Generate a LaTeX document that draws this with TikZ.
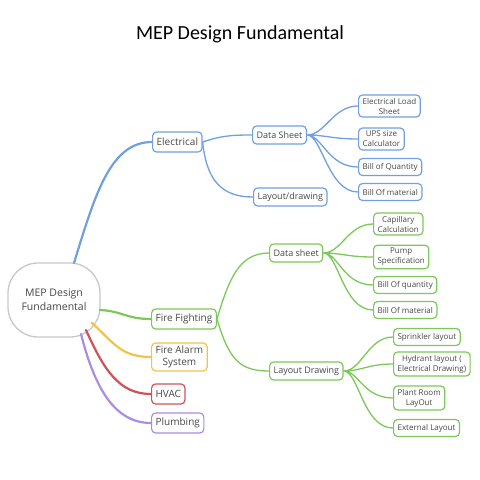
\documentclass[tikz,border=0pt]{standalone}
\usepackage{fontspec}
\setmainfont{Open Sans}
\newfontfamily\titlefont{Carlito}
\definecolor{textgray}{RGB}{72,72,72}
\definecolor{coregray}{RGB}{200,200,200}
\definecolor{elecblue}{RGB}{112,160,226}
\definecolor{firegreen}{RGB}{124,200,88}
\definecolor{alarmorange}{RGB}{240,196,72}
\definecolor{hvacred}{RGB}{206,82,88}
\definecolor{plumbpurple}{RGB}{168,142,226}

\begin{document}
\begin{tikzpicture}[x=1pt,y=-1pt,
    box/.style={draw, fill=white, rounded corners=4pt, line width=1.2pt, text=textgray,
        align=center, inner xsep=4pt, inner ysep=3pt},
    mainbox/.style={box, font=\fontsize{10}{12}\selectfont, minimum height=20pt},
    subbox/.style={box, font=\fontsize{9}{11}\selectfont, minimum height=18pt},
    leafbox/.style={box, font=\fontsize{8}{10}\selectfont, minimum height=17pt},
    trunk/.style={line width=2.2pt, line cap=round},
    twig/.style={line width=1.3pt, line cap=round}]

    \useasboundingbox (0,0) rectangle (480,480);

    % title
    \node[font=\titlefont\fontsize{20}{24}\selectfont] (title) at (240,34) {MEP Design Fundamental};

    % centre
    \node[draw=coregray, fill=white, line width=1.3pt, rounded corners=30pt, minimum width=92pt,
        minimum height=74pt, align=center, text=textgray, font=\fontsize{10.5}{14}\selectfont]
        (mep) at (54,300) {MEP Design\\Fundamental};

    % electrical branch
    \node[mainbox, draw=elecblue, anchor=west] (elec) at (152,142) {Electrical};
    \node[subbox, draw=elecblue, anchor=west] (eds) at (252,135) {Data Sheet};
    \node[subbox, draw=elecblue, anchor=west] (elay) at (253,197) {Layout/drawing};
    \node[leafbox, draw=elecblue, anchor=west] (eload) at (358,106) {Electrical Load\\Sheet};
    \node[leafbox, draw=elecblue, anchor=west] (eups) at (358,139) {UPS size\\Calculator};
    \node[leafbox, draw=elecblue, anchor=west] (eboq) at (358,167) {Bill of Quantity};
    \node[leafbox, draw=elecblue, anchor=west] (ebom) at (358,192) {Bill Of material};

    % fire fighting branch
    \node[mainbox, draw=firegreen, anchor=west] (fire) at (151,319) {Fire Fighting};
    \node[subbox, draw=firegreen, anchor=west] (fds) at (269,253) {Data sheet};
    \node[subbox, draw=firegreen, anchor=west] (flay) at (269,371) {Layout Drawing};
    \node[leafbox, draw=firegreen, anchor=west] (fcap) at (373,224) {Capillary\\Calculation};
    \node[leafbox, draw=firegreen, anchor=west] (fpump) at (373,257) {Pump\\Specification};
    \node[leafbox, draw=firegreen, anchor=west] (fboq) at (373,285) {Bill Of quantity};
    \node[leafbox, draw=firegreen, anchor=west] (fbom) at (373,310) {Bill Of material};
    \node[leafbox, draw=firegreen, anchor=west] (fspr) at (393,337) {Sprinkler layout};
    \node[leafbox, draw=firegreen, anchor=west] (fhyd) at (393,364) {Hydrant layout (\\Electrical Drawing)};
    \node[leafbox, draw=firegreen, anchor=west] (fplant) at (393,398) {Plant Room\\LayOut};
    \node[leafbox, draw=firegreen, anchor=west] (fext) at (393,428) {External Layout};

    % other branches
    \node[mainbox, draw=alarmorange, anchor=west] (alarm) at (151,357) {Fire Alarm\\System};
    \node[mainbox, draw=hvacred, anchor=west] (hvac) at (151,394) {HVAC};
    \node[mainbox, draw=plumbpurple, anchor=west] (plumb) at (151,423) {Plumbing};

    % connectors
    \draw[elecblue, trunk] ([shift={(20,-37)}]mep.center) .. controls +(21,-68) and +(-42,0) .. (elec.west);
    \draw[elecblue, twig]
    (elec.east) .. controls +(18,-6) and +(-22,0) .. (eds.west)
    (elec.east) .. controls +(4,40) and +(-30,0) .. (elay.west)
    (eds.east) .. controls +(18,0) and +(-25,0) .. (eload.west)
    (eds.east) .. controls +(18,0) and +(-25,0) .. (eups.west)
    (eds.east) .. controls +(15,0) and +(-30,0) .. (eboq.west)
    (eds.east) .. controls +(15,0) and +(-30,0) .. (ebom.west)
    ;

    \draw[firegreen, trunk] ([shift={(46,10)}]mep.center) .. controls +(22,1) and +(-25,0) .. (fire.west);
    \draw[firegreen, twig]
    (fire.east) .. controls +(12,-40) and +(-30,0) .. (fds.west)
    (fire.east) .. controls +(12,40) and +(-30,0) .. (flay.west)
    (fds.east) .. controls +(18,0) and +(-25,0) .. (fcap.west)
    (fds.east) .. controls +(18,0) and +(-25,0) .. (fpump.west)
    (fds.east) .. controls +(15,0) and +(-30,0) .. (fboq.west)
    (fds.east) .. controls +(15,0) and +(-30,0) .. (fbom.west)
    (flay.east) .. controls +(18,0) and +(-25,0) .. (fspr.west)
    (flay.east) .. controls +(18,0) and +(-25,0) .. (fhyd.west)
    (flay.east) .. controls +(15,0) and +(-30,0) .. (fplant.west)
    (flay.east) .. controls +(15,0) and +(-30,0) .. (fext.west)
    ;

    \draw[alarmorange, trunk] ([shift={(38,23)}]mep.center) .. controls +(22,20) and +(-30,0) .. (alarm.west);
    \draw[hvacred, trunk] ([shift={(32,30)}]mep.center) .. controls +(18,40) and +(-32,0) .. (hvac.west);
    \draw[plumbpurple, trunk] ([shift={(27,34)}]mep.center) .. controls +(14,55) and +(-36,0) .. (plumb.west);

\end{tikzpicture}
\end{document}
